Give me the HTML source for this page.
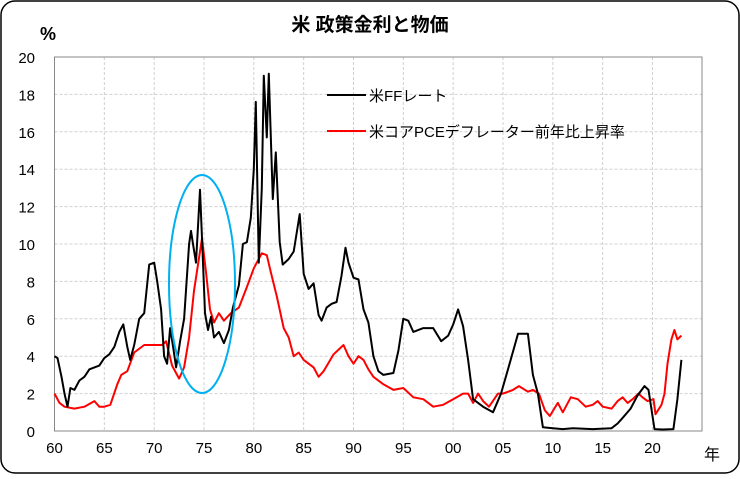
<!DOCTYPE html>
<html><head><meta charset="utf-8"><style>
body{margin:0;background:#fff}
svg text{font-family:"Liberation Sans","Noto Sans CJK JP",sans-serif}
</style></head><body>
<svg id="c" width="740" height="474" xmlns="http://www.w3.org/2000/svg">
<rect x="1" y="1" width="738" height="472" rx="14" fill="#fff" stroke="#000" stroke-width="1.5"/>
<text x="370" y="31" text-anchor="middle" font-size="19" font-weight="bold">米 政策金利と物価</text>
<text x="40" y="40" font-size="18" font-weight="bold">%</text>
<text x="712" y="460" text-anchor="middle" font-size="16">年</text>
<g id="grid"></g><g id="ticks"></g><g id="series"></g>
<ellipse cx="202" cy="284" rx="33" ry="109" fill="none" stroke="#00b0f0" stroke-width="2"/>
<g>
<line x1="327" y1="95" x2="366" y2="95" stroke="#000" stroke-width="2"/>
<text x="369" y="101" font-size="15">米FFレート</text>
<line x1="327" y1="131" x2="366" y2="131" stroke="#f00" stroke-width="2"/>
<text x="369" y="137" font-size="15">米コアPCEデフレーター前年比上昇率</text>
</g>
</svg>
<script>
const yTicks=[0,2,4,6,8,10,12,14,16,18,20];
const xTickYears=[1960,1965,1970,1975,1980,1985,1990,1995,2000,2005,2010,2015,2020];
const xTickLabels=["60","65","70","75","80","85","90","95","00","05","10","15","20"];
const ffYears=[1960,1960.3,1960.7,1961,1961.3,1961.6,1962,1962.5,1963,1963.5,1964,1964.5,1965,1965.5,1966,1966.5,1966.9,1967.3,1967.6,1968,1968.5,1969,1969.5,1970,1970.3,1970.7,1971,1971.3,1971.6,1971.9,1972.2,1972.6,1973,1973.5,1973.7,1973.9,1974.2,1974.6,1974.9,1975.1,1975.4,1975.7,1976,1976.5,1977,1977.5,1977.9,1978.5,1978.9,1979.3,1979.7,1980,1980.2,1980.5,1980.8,1981,1981.3,1981.5,1981.9,1982.2,1982.6,1982.9,1983.5,1984,1984.6,1985,1985.5,1986,1986.5,1986.8,1987.3,1987.8,1988.3,1988.8,1989.2,1989.5,1990,1990.5,1991,1991.5,1992,1992.5,1993,1994,1994.5,1995,1995.5,1996,1997,1998,1998.8,1999.5,2000,2000.5,2001,2001.5,2002,2003,2004,2004.8,2005.5,2006.5,2007.5,2008,2008.5,2009,2010,2011,2012,2014,2015.9,2016.5,2017,2017.8,2018.5,2019.2,2019.6,2020.2,2021,2022.1,2022.5,2022.9];
const ffValues=[4.0,3.9,2.9,2.0,1.3,2.3,2.2,2.7,2.9,3.3,3.4,3.5,3.9,4.1,4.5,5.3,5.7,4.5,3.8,4.6,6.0,6.3,8.9,9.0,8.0,6.5,4.0,3.6,5.5,4.5,3.4,4.8,6.0,10.0,10.7,10.0,9.0,12.9,9.0,6.3,5.4,6.1,5.0,5.3,4.7,5.4,6.6,7.8,10.0,10.1,11.4,14.0,17.6,9.0,13.0,19.0,15.7,19.1,12.4,14.9,10.1,8.9,9.2,9.6,11.6,8.4,7.6,7.9,6.2,5.9,6.6,6.8,6.9,8.3,9.8,9.0,8.2,8.1,6.5,5.8,4.0,3.2,3.0,3.1,4.3,6.0,5.9,5.3,5.5,5.5,4.8,5.1,5.7,6.5,5.6,3.8,1.7,1.3,1.0,2.0,3.3,5.2,5.2,3.0,2.0,0.2,0.15,0.1,0.15,0.1,0.15,0.4,0.7,1.2,1.9,2.4,2.2,0.1,0.08,0.1,1.7,3.8];
const pceYears=[1960,1960.5,1961,1962,1963,1964,1964.5,1965,1965.6,1966.3,1966.7,1967.3,1968,1969,1970,1970.8,1971.2,1971.8,1972.5,1973,1973.5,1974,1974.8,1975.2,1975.6,1976,1976.5,1977,1977.7,1978.5,1979.3,1980,1980.8,1981.3,1981.7,1982.3,1983,1983.5,1984,1984.5,1985,1986,1986.5,1987,1988,1989,1989.5,1990,1990.5,1991,1991.5,1992,1993,1994,1995,1996,1997,1998,1999,2000,2001,2001.5,2002,2002.5,2003,2003.6,2004.5,2005,2006,2006.6,2007.5,2008,2008.6,2009.2,2009.7,2010.5,2011,2011.8,2012.5,2013.3,2014,2014.5,2015,2015.9,2016.5,2017,2017.5,2018,2018.6,2019,2019.5,2020.1,2020.3,2020.9,2021.2,2021.5,2021.9,2022.2,2022.5,2022.9];
const pceValues=[2.0,1.5,1.3,1.2,1.3,1.6,1.3,1.3,1.4,2.5,3.0,3.2,4.2,4.6,4.6,4.6,4.8,3.5,2.8,3.4,5.0,7.5,10.3,8.5,6.5,5.8,6.3,5.9,6.3,6.6,7.7,8.7,9.5,9.4,8.5,7.2,5.5,5.0,4.0,4.2,3.8,3.4,2.9,3.2,4.1,4.6,4.0,3.6,4.0,3.8,3.3,2.9,2.5,2.2,2.3,1.8,1.7,1.3,1.4,1.7,2.0,2.0,1.5,2.0,1.6,1.3,2.0,2.0,2.2,2.4,2.1,2.2,2.0,1.1,0.8,1.5,1.0,1.8,1.7,1.3,1.4,1.6,1.3,1.2,1.6,1.8,1.5,1.7,2.0,1.8,1.6,1.7,0.9,1.4,2.0,3.6,4.9,5.4,4.9,5.1];

const L=54.5,R=702,T=57,B=431;
const xs=y=>L+(y-1960)*(652.5-L)/60;
const ys=v=>B-v*(B-T)/20;
const NS="http://www.w3.org/2000/svg";
function mk(tag,parent){const e=document.createElementNS(NS,tag);parent.appendChild(e);return e;}
const grid=document.getElementById('grid'),ticks=document.getElementById('ticks'),ser=document.getElementById('series');
yTicks.forEach(v=>{
 if(v>0){const g=mk('line',grid);g.setAttribute('x1',L);g.setAttribute('x2',R);g.setAttribute('y1',ys(v));g.setAttribute('y2',ys(v));g.setAttribute('stroke','#d0d0d0');g.setAttribute('stroke-dasharray','3,2');
 
 }
 const t=mk('text',ticks);t.setAttribute('x',35);t.setAttribute('y',ys(v)+6);t.setAttribute('text-anchor','end');t.setAttribute('font-size','15');t.textContent=v;
 
 
});
xTickYears.forEach((yr,i)=>{
 if(i>0){const g=mk('line',grid);g.setAttribute('x1',xs(yr));g.setAttribute('x2',xs(yr));g.setAttribute('y1',T);g.setAttribute('y2',B);g.setAttribute('stroke','#d0d0d0');g.setAttribute('stroke-dasharray','3,2');
 
 }
 const t=mk('text',ticks);t.setAttribute('x',xs(yr));t.setAttribute('y',453);t.setAttribute('text-anchor','middle');t.setAttribute('font-size','15');t.textContent=xTickLabels[i];
 
 
});
const box=mk('rect',grid);box.setAttribute('x',L);box.setAttribute('y',T);box.setAttribute('width',R-L);box.setAttribute('height',B-T);box.setAttribute('fill','none');box.setAttribute('stroke','#888');


function line(yrs,vals,col,name){
 const p=mk('polyline',ser);p.setAttribute('points',yrs.map((y,i)=>xs(y).toFixed(1)+','+ys(vals[i]).toFixed(1)).join(' '));
 p.setAttribute('fill','none');p.setAttribute('stroke',col);p.setAttribute('stroke-width','2');p.setAttribute('stroke-linejoin','round');
 
 
}
line(pceYears,pceValues,'#f00','core-pce-line');
line(ffYears,ffValues,'#000','ff-rate-line');
</script>
</body></html>
